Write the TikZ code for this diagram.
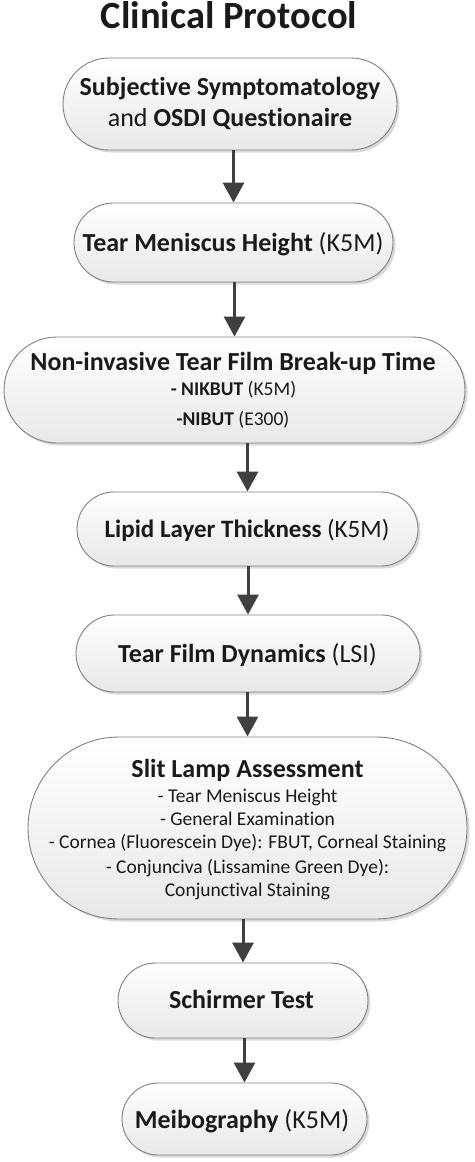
\documentclass[tikz,border=0pt]{standalone}
\usepackage{fontspec}
\setmainfont{Carlito}[Ligatures=NoCommon]
\usetikzlibrary{shapes.misc,shadows,arrows.meta}
\definecolor{txt}{HTML}{1A1A1A}
\definecolor{edge}{HTML}{808080}
\definecolor{arr}{HTML}{404040}
\begin{document}
\begin{tikzpicture}[x=1pt,y=-1pt,
  term/.style={rounded rectangle, draw=edge, line width=0.9pt, top color=white, bottom color=black!9,
    drop shadow={shadow xshift=2.5pt, shadow yshift=-2.5pt, fill=black, opacity=0.15},
    inner sep=0pt},
  lbl/.style={anchor=base, inner sep=0pt, text=txt, font=\fontsize{26}{30}\selectfont},
  sub/.style={anchor=base, inner sep=0pt, text=txt, font=\fontsize{19.5}{24}\selectfont},
  flow/.style={draw=arr, line width=3pt, -{Triangle[width=21pt,length=20pt]}}]
\useasboundingbox (0,0) rectangle (474,1162);
\fill[white] (0,0) rectangle (474,1162);
\node[anchor=base, inner sep=0pt, text=txt, font=\fontsize{38.5}{42}\selectfont\bfseries] (title) at (229,28) {Clinical Protocol};
% boxes
\node[term, minimum width=334pt, minimum height=92pt] (n1) at (230,104) {};
\node[term, minimum width=319pt, minimum height=79pt] (n2) at (233.5,242.5) {};
\node[term, minimum width=461pt, minimum height=106pt] (n3) at (234.5,390) {};
\node[term, minimum width=341pt, minimum height=74pt] (n4) at (247.5,529) {};
\node[term, minimum width=344pt, minimum height=77pt] (n5) at (248,653.5) {};
\node[term, minimum width=439pt, minimum height=182pt] (n6) at (247.5,828) {};
\node[term, minimum width=250pt, minimum height=75pt] (n7) at (243,1000.5) {};
\node[term, minimum width=245pt, minimum height=72pt] (n8) at (244.5,1119) {};
% texts
\node[lbl] (t1a) at (230,95) {\textbf{Subjective Symptomatology}};
\node[lbl] (t1b) at (230,126) {and \textbf{OSDI Questionaire}};
\node[lbl] (t2) at (233,251) {\textbf{Tear Meniscus Height} (K5M)};
\node[lbl] (t3a) at (233,370) {\textbf{Non-invasive Tear Film Break-up Time}};
\node[sub] (t3b) at (233.5,395) {\textbf{- NIKBUT} (K5M)};
\node[sub] (t3c) at (233,425) {\textbf{-NIBUT} (E300)};
\node[lbl, font=\fontsize{25}{30}\selectfont] (t4) at (247,537) {\textbf{Lipid Layer Thickness} (K5M)};
\node[lbl] (t5) at (247.5,662) {\textbf{Tear Film Dynamics} (LSI)};
\node[lbl] (t6a) at (247.5,777) {\textbf{Slit Lamp Assessment}};
\node[sub] (t6b) at (247.5,802) {- Tear Meniscus Height};
\node[sub] (t6c) at (247.5,825) {- General Examination};
\node[sub] (t6d) at (247.5,848) {- Cornea (Fluorescein Dye): FBUT, Corneal Staining};
\node[sub] (t6e) at (247.5,873) {- Conjunciva (Lissamine Green Dye):};
\node[sub] (t6f) at (247.5,896) {Conjunctival Staining};
\node[lbl] (t7) at (241.5,1008) {\textbf{Schirmer Test}};
\node[lbl] (t8) at (242,1128) {\textbf{Meibography} (K5M)};
% arrows
\draw[flow] (n1.south -| n2.north) -- (n2.north);
\draw[flow] (n2.south -| n3.north) -- (n3.north);
\draw[flow] (n3.south -| n4.north) -- (n4.north);
\draw[flow] (n4.south -| n5.north) -- (n5.north);
\draw[flow] (n5.south -| n6.north) -- (n6.north);
\draw[flow] (n6.south -| n7.north) -- (n7.north);
\draw[flow] (n7.south -| n8.north) -- (n8.north);
\end{tikzpicture}
\end{document}
